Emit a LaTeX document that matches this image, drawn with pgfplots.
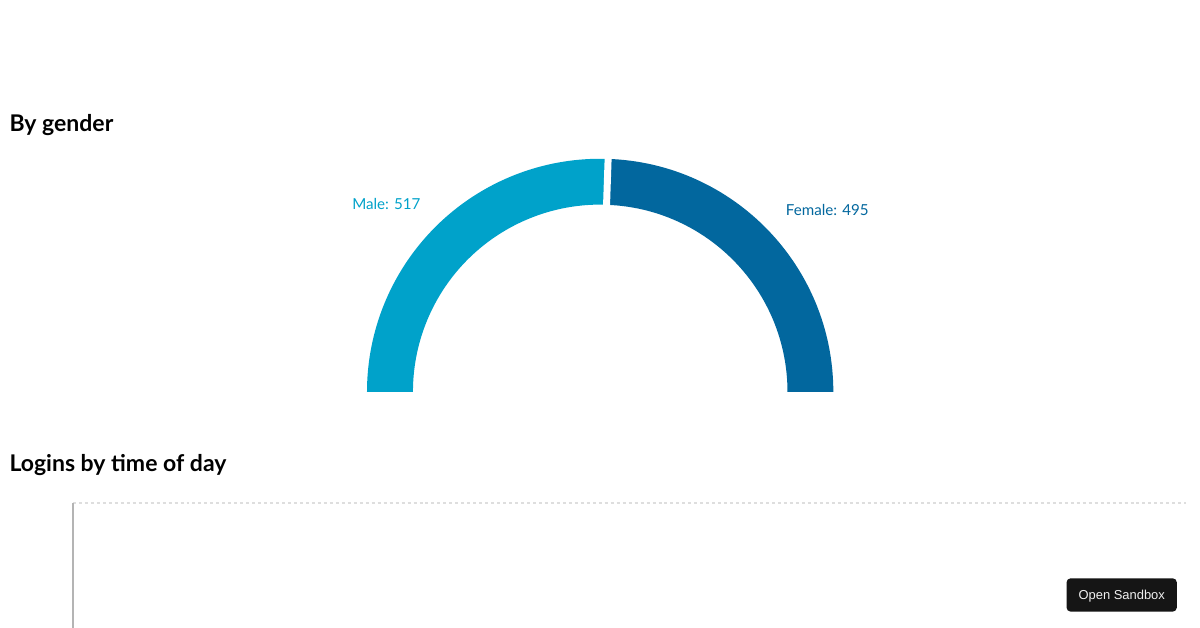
\documentclass[border=0pt]{standalone}
\usepackage{pgfplots}
\pgfplotsset{compat=1.18}
\usepackage{pgfplotstable}
\usepackage{fontspec}
\setmainfont{Lato}
\newfontfamily\btnfont{Liberation Sans}

\definecolor{malecol}{RGB}{0,162,202}
\definecolor{femalecol}{RGB}{2,103,158}
\definecolor{axisgray}{RGB}{180,180,180}
\definecolor{gridgray}{RGB}{222,222,222}
\definecolor{btnbg}{RGB}{21,21,21}

% gender split
\pgfplotstableread{
gender value
Male   517
Female 495
}\gendertable

\begin{document}
\pgfplotstablegetelem{0}{value}\of\gendertable \let\nmale\pgfplotsretval
\pgfplotstablegetelem{1}{value}\of\gendertable \let\nfemale\pgfplotsretval
\pgfmathsetmacro\splitang{180*(\nfemale/(\nmale+\nfemale))}
\def\rin{0.8034}
\begin{tikzpicture}[x=1bp,y=1bp]
\useasboundingbox (0,0) rectangle (1200,630);
\clip (0,0) rectangle (1200,630);
\fill[white] (0,0) rectangle (1200,630);

\node[anchor=base west, inner sep=0pt, font=\fontsize{23.1bp}{27bp}\selectfont\bfseries] at (4.3,498) {By gender};
\node[anchor=base west, inner sep=0pt, font=\fontsize{23.1bp}{27bp}\selectfont\bfseries] at (4.3,156.3) {Logins by time of day};

% semi donut
\begin{axis}[
    at={(597.6bp,236.4bp)}, anchor=origin,
    scale only axis, width=468.3bp, height=234.15bp,
    xmin=-1, xmax=1, ymin=0, ymax=1,
    hide axis, clip=false
]
\fill[malecol] (axis cs:-1,0) arc[start angle=180, end angle=\splitang, radius=234.15bp]
    -- (axis cs:{\rin*cos(\splitang)},{\rin*sin(\splitang)})
    arc[start angle=\splitang, end angle=180, radius=188bp] -- cycle;
\fill[femalecol] (axis cs:{cos(\splitang)},{sin(\splitang)}) arc[start angle=\splitang, end angle=0, radius=234.15bp]
    -- (axis cs:\rin,0)
    arc[start angle=0, end angle=\splitang, radius=188bp] -- cycle;
\draw[white, line width=7bp] (axis cs:{0.78*cos(\splitang)},{0.78*sin(\splitang)})
    -- (axis cs:{1.02*cos(\splitang)},{1.02*sin(\splitang)});
\node[anchor=base west, inner sep=0pt, text=malecol, font=\fontsize{15.2bp}{18bp}\selectfont]
    at (axis cs:-1.064,0.782) {Male: \nmale};
\node[anchor=base west, inner sep=0pt, text=femalecol, font=\fontsize{15.2bp}{18bp}\selectfont]
    at (axis cs:0.796,0.757) {Female: \nfemale};
\end{axis}

% logins by time of day (cut off at the bottom)
\begin{axis}[
    at={(68.2bp,125bp)}, anchor=origin,
    scale only axis, width=1117.8bp, height=200bp,
    xmin=0, xmax=24, ymin=-1, ymax=0,
    axis x line=none, axis y line=left,
    axis line style={-, draw=axisgray, line width=1.6bp},
    xtick=\empty, ytick={0}, yticklabels={},
    major tick length=0pt,
    ymajorgrids,
    major grid style={gridgray, line width=1.3bp, dash pattern=on 3bp off 3bp}
]
\end{axis}

% button
\fill[btnbg, rounded corners=4bp] (1066,15.8) rectangle (1176.7,49.2);
\node[anchor=base, inner sep=0pt, text=white!94!black, font=\btnfont\fontsize{13bp}{15bp}\selectfont]
    at (1121.4,27.5) {Open Sandbox};
\end{tikzpicture}
\end{document}
